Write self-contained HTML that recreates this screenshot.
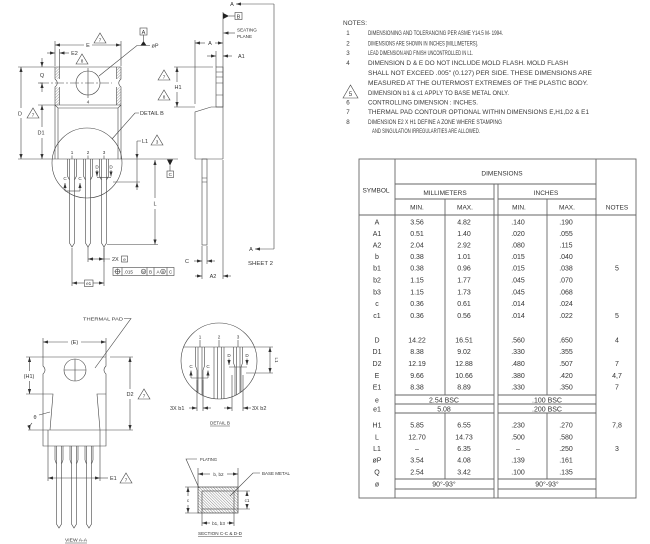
<!DOCTYPE html>
<html><head><meta charset="utf-8">
<style>
html,body{margin:0;padding:0;background:#fff}
svg{display:block}
.l{stroke:#444;stroke-width:.6;fill:none}
.d{marker-start:url(#a);marker-end:url(#a)}
.e{marker-end:url(#a)}
text{font-family:"Liberation Sans",sans-serif;fill:#333}
.t{font-size:5.5px}
.s{font-size:4.6px}
.n{font-size:6.2px;fill:#3a3a3a}
.tb{font-size:7px;fill:#444}
.g{stroke:#666;stroke-width:.9;fill:none}
.f{fill:none;stroke:#444;stroke-width:.6}
</style></head>
<body>
<svg width="650" height="544" viewBox="0 0 650 544" xmlns="http://www.w3.org/2000/svg">
<defs>
<marker id="a" markerUnits="userSpaceOnUse" markerWidth="5" markerHeight="3.2" refX="5" refY="1.6" orient="auto-start-reverse"><path d="M0,0L5,1.6L0,3.2z" fill="#333"/></marker>
<pattern id="h" width="2" height="2" patternUnits="userSpaceOnUse" patternTransform="rotate(45)"><line x1="0" y1="0" x2="0" y2="2" stroke="#555" stroke-width=".6"/></pattern>
<pattern id="h2" width="2" height="2" patternUnits="userSpaceOnUse" patternTransform="rotate(-45)"><line x1="0" y1="0" x2="0" y2="2" stroke="#555" stroke-width=".7"/></pattern>
<clipPath id="cb"><circle cx="219" cy="361" r="38"/></clipPath>
</defs>

<!-- ================= NOTES ================= -->
<text class="n" x="343" y="25.2" textLength="24" lengthAdjust="spacingAndGlyphs">NOTES:</text>
<text class="n" x="348" y="35.2" text-anchor="middle">1</text>
<text class="n" x="368" y="35.2" textLength="135" lengthAdjust="spacingAndGlyphs">DIMENSIONING AND TOLERANCING PER ASME Y14.5 M- 1994.</text>
<text class="n" x="348" y="45.5" text-anchor="middle">2</text>
<text class="n" x="368" y="45.5" textLength="110" lengthAdjust="spacingAndGlyphs">DIMENSIONS ARE SHOWN IN INCHES [MILLIMETERS].</text>
<text class="n" x="348" y="55.2" text-anchor="middle">3</text>
<text class="n" x="368" y="55.2" textLength="105" lengthAdjust="spacingAndGlyphs">LEAD DIMENSION AND FINISH UNCONTROLLED IN L1.</text>
<text class="n" x="348" y="65.2" text-anchor="middle">4</text>
<text class="n" x="368" y="65.2" textLength="200" lengthAdjust="spacingAndGlyphs">DIMENSION D &amp; E DO NOT INCLUDE MOLD FLASH. MOLD FLASH</text>
<text class="n" x="368" y="75.2" textLength="224" lengthAdjust="spacingAndGlyphs">SHALL NOT EXCEED .005" (0.127) PER SIDE. THESE DIMENSIONS ARE</text>
<text class="n" x="368" y="85.2" textLength="220" lengthAdjust="spacingAndGlyphs">MEASURED AT THE OUTERMOST EXTREMES OF THE PLASTIC BODY.</text>
<polygon points="343,98 350.5,85 358,98" class="f"/>
<text class="n" x="350.5" y="96" text-anchor="middle">5</text>
<text class="n" x="368" y="95.2" textLength="141" lengthAdjust="spacingAndGlyphs">DIMENSION b1 &amp; c1 APPLY TO BASE METAL ONLY.</text>
<text class="n" x="348" y="104.7" text-anchor="middle">6</text>
<text class="n" x="368" y="104.7" textLength="110" lengthAdjust="spacingAndGlyphs">CONTROLLING DIMENSION : INCHES.</text>
<text class="n" x="348" y="114.2" text-anchor="middle">7</text>
<text class="n" x="368" y="114.2" textLength="221" lengthAdjust="spacingAndGlyphs">THERMAL PAD CONTOUR OPTIONAL WITHIN DIMENSIONS E,H1,D2 &amp; E1</text>
<text class="n" x="348" y="124.2" text-anchor="middle">8</text>
<text class="n" x="368" y="124.2" textLength="134" lengthAdjust="spacingAndGlyphs">DIMENSION E2 X H1 DEFINE A ZONE WHERE STAMPING</text>
<text class="n" x="372" y="133.2" textLength="108" lengthAdjust="spacingAndGlyphs">AND SINGULATION IRREGULARITIES ARE ALLOWED.</text>

<!-- ================= TABLE ================= -->
<rect x="359" y="159" width="277" height="339" class="g"/>
<path class="g" d="M395,159V498M596,159V498M395,184H596M494,184V498M498,184V498M395,199H494M498,199H596M359,215H636
M445,199V395M445,413V479M547,199V395M547,413V479
M395,395H494M498,395H596M395,404H494M498,404H596M395,413H494M498,413H596
M395,479H494M498,479H596M395,489H494M498,489H596"/>
<g class="tb" text-anchor="middle" style="font-size:6.5px">
<text x="502" y="175.5">DIMENSIONS</text>
<text x="376" y="192.5">SYMBOL</text>
<text x="445" y="195">MILLIMETERS</text>
<text x="546" y="195">INCHES</text>
<text x="417" y="209.5">MIN.</text><text x="465" y="209.5">MAX.</text>
<text x="519" y="209.5">MIN.</text><text x="567" y="209.5">MAX.</text>
<text x="617" y="209.5">NOTES</text>
</g>
<g class="tb" text-anchor="middle">
<text x="377" y="224.5">A</text><text x="417" y="224.5">3.56</text><text x="464" y="224.5">4.82</text><text x="518" y="224.5">.140</text><text x="566" y="224.5">.190</text>
<text x="377" y="236">A1</text><text x="417" y="236">0.51</text><text x="464" y="236">1.40</text><text x="518" y="236">.020</text><text x="566" y="236">.055</text>
<text x="377" y="247.5">A2</text><text x="417" y="247.5">2.04</text><text x="464" y="247.5">2.92</text><text x="518" y="247.5">.080</text><text x="566" y="247.5">.115</text>
<text x="377" y="259">b</text><text x="417" y="259">0.38</text><text x="464" y="259">1.01</text><text x="518" y="259">.015</text><text x="566" y="259">.040</text>
<text x="377" y="270.5">b1</text><text x="417" y="270.5">0.38</text><text x="464" y="270.5">0.96</text><text x="518" y="270.5">.015</text><text x="566" y="270.5">.038</text><text x="617" y="270.5">5</text>
<text x="377" y="282.5">b2</text><text x="417" y="282.5">1.15</text><text x="464" y="282.5">1.77</text><text x="518" y="282.5">.045</text><text x="566" y="282.5">.070</text>
<text x="377" y="294.5">b3</text><text x="417" y="294.5">1.15</text><text x="464" y="294.5">1.73</text><text x="518" y="294.5">.045</text><text x="566" y="294.5">.068</text>
<text x="377" y="306">c</text><text x="417" y="306">0.36</text><text x="464" y="306">0.61</text><text x="518" y="306">.014</text><text x="566" y="306">.024</text>
<text x="377" y="318">c1</text><text x="417" y="318">0.36</text><text x="464" y="318">0.56</text><text x="518" y="318">.014</text><text x="566" y="318">.022</text><text x="617" y="318">5</text>
<text x="377" y="342.5">D</text><text x="417" y="342.5">14.22</text><text x="464" y="342.5">16.51</text><text x="518" y="342.5">.560</text><text x="566" y="342.5">.650</text><text x="617" y="342.5">4</text>
<text x="377" y="354">D1</text><text x="417" y="354">8.38</text><text x="464" y="354">9.02</text><text x="518" y="354">.330</text><text x="566" y="354">.355</text>
<text x="377" y="366">D2</text><text x="417" y="366">12.19</text><text x="464" y="366">12.88</text><text x="518" y="366">.480</text><text x="566" y="366">.507</text><text x="617" y="366">7</text>
<text x="377" y="378">E</text><text x="417" y="378">9.66</text><text x="464" y="378">10.66</text><text x="518" y="378">.380</text><text x="566" y="378">.420</text><text x="617" y="378">4,7</text>
<text x="377" y="389.5">E1</text><text x="417" y="389.5">8.38</text><text x="464" y="389.5">8.89</text><text x="518" y="389.5">.330</text><text x="566" y="389.5">.350</text><text x="617" y="389.5">7</text>
<text x="377" y="402.5">e</text><text x="444" y="402.3">2.54  BSC</text><text x="547" y="402.3">.100  BSC</text>
<text x="377" y="411.5">e1</text><text x="444" y="411.3">5.08</text><text x="547" y="411.3">.200  BSC</text>
<text x="377" y="427.5">H1</text><text x="417" y="427.5">5.85</text><text x="464" y="427.5">6.55</text><text x="518" y="427.5">.230</text><text x="566" y="427.5">.270</text><text x="617" y="427.5">7,8</text>
<text x="377" y="439.5">L</text><text x="417" y="439.5">12.70</text><text x="464" y="439.5">14.73</text><text x="518" y="439.5">.500</text><text x="566" y="439.5">.580</text>
<text x="377" y="451">L1</text><text x="417" y="451">–</text><text x="464" y="451">6.35</text><text x="518" y="451">–</text><text x="566" y="451">.250</text><text x="617" y="451">3</text>
<text x="377" y="462.5">øP</text><text x="417" y="462.5">3.54</text><text x="464" y="462.5">4.08</text><text x="518" y="462.5">.139</text><text x="566" y="462.5">.161</text>
<text x="377" y="474.5">Q</text><text x="417" y="474.5">2.54</text><text x="464" y="474.5">3.42</text><text x="518" y="474.5">.100</text><text x="566" y="474.5">.135</text>
<text x="377" y="486.5">ø</text><text x="444" y="486.5">90°-93°</text><text x="547" y="486.5">90°-93°</text>
</g>

<!-- ================= FRONT VIEW (top-left) ================= -->
<path class="l" d="M55,159V87Q59.5,83 55,79V67H121V79Q116.5,83 121,87V159"/>
<rect x="55.3" y="67.3" width="4" height="11.5" fill="url(#h)"/>
<rect x="55.3" y="87.3" width="4" height="17.5" fill="url(#h)"/>
<rect x="116.7" y="67.3" width="4" height="11.5" fill="url(#h)"/>
<rect x="116.7" y="87.3" width="4" height="17.5" fill="url(#h)"/>
<path class="l" d="M59.5,67V79M59.5,87V105M116.5,67V79M116.5,87V105M55,105H121M55,105L58,108H118L121,105M58,108V159M118,108V159"/>
<circle cx="88" cy="83" r="12" class="l"/>
<path class="l" d="M40,83H112" stroke-dasharray="9,2,2,2"/>
<path class="l" d="M88,68V98"/>
<text class="s" x="88" y="103.5" text-anchor="middle">4</text>
<!-- datum line at body bottom -->
<path class="l" d="M18,159H178"/>
<!-- Q -->
<path class="l" d="M18,67H55"/>
<path class="l e" d="M42,58V67"/><path class="l e" d="M42,92V83"/>
<path class="l" d="M38,83H43"/>
<text class="t" x="42" y="77" text-anchor="middle">Q</text>
<!-- D -->
<path class="l e" d="M21,108V67"/><path class="l e" d="M21,118V159"/>
<text class="t" x="20" y="115.5" text-anchor="middle">D</text>
<!-- D1 -->
<path class="l" d="M38,105H55"/>
<path class="l e" d="M42,127V105"/><path class="l e" d="M42,138V159"/>
<text class="t" x="41" y="134.5" text-anchor="middle">D1</text>
<!-- E -->
<path class="l" d="M55,41V66M121,41V66"/>
<path class="l e" d="M84,45H55"/><path class="l e" d="M92,45H121"/>
<text class="t" x="88" y="47" text-anchor="middle">E</text>
<!-- E2 -->
<path class="l" d="M59.5,49V67"/>
<path class="l e" d="M47,53H55"/><path class="l e" d="M69,53H59.5"/>
<text class="t" x="74.5" y="54.8" text-anchor="middle">E2</text>
<!-- datum A / øP -->
<rect x="140" y="28" width="7" height="7" class="f"/>
<text class="t" x="143.5" y="33.8" text-anchor="middle">A</text>
<path class="l" d="M143.5,35V41"/>
<polygon points="140.5,45.5 143.5,41 146.5,45.5" fill="#222"/>
<path class="l" d="M99,76L137,45.5H150"/>
<text class="t" x="151.5" y="47.5">øP</text>
<!-- DETAIL B leader -->
<path class="l" d="M112,139L135,113H139"/>
<text class="t" x="140" y="115">DETAIL  B</text>
<!-- detail circle -->
<circle cx="87" cy="163" r="35" class="l"/>
<!-- leads front -->
<g class="l">
<path d="M67.5,159V176L69.5,180V243L72,247L74.5,243V180L76.5,176V159M69.5,159V180M74.5,159V180"/>
<path d="M83.5,159V176L85.5,180V243L88,247L90.5,243V180L92.5,176V159M85.5,159V180M90.5,159V180"/>
<path d="M99.5,159V176L101.5,180V243L104,247L106.5,243V180L108.5,176V159M101.5,159V180M106.5,159V180"/>
<path d="M72,155.5V159M88,155.5V159M104,155.5V159"/>
</g>
<text class="s" x="72" y="154" text-anchor="middle">1</text>
<text class="s" x="88" y="154" text-anchor="middle">2</text>
<text class="s" x="104" y="154" text-anchor="middle">3</text>
<!-- C / D section markers -->
<text class="s" x="65" y="180" text-anchor="middle">C</text>
<text class="s" x="80" y="180" text-anchor="middle">C</text>
<path class="l e" d="M65,191V183"/><path class="l e" d="M80,191V183"/>
<path class="l" d="M65,191H80"/>
<text class="s" x="97" y="168.5" text-anchor="middle">D</text>
<text class="s" x="111" y="168.5" text-anchor="middle">D</text>
<path class="l e" d="M97,170V176.5"/><path class="l e" d="M111,170V176.5"/>
<path class="l" d="M97,177.5H111"/>
<!-- L -->
<path class="l" d="M107,244.5H158"/>
<path class="l e" d="M155,198V160"/><path class="l e" d="M155,209V244.5"/>
<text class="t" x="155" y="205.5" text-anchor="middle">L</text>
<!-- L1 -->
<path class="l" d="M113,182H140M137,141H141"/>
<path class="l e" d="M137,141V158.8"/><path class="l" d="M137,159V182"/>
<path class="l e" d="M137,190V182.3"/>
<text class="t" x="142" y="143">L1</text>
<!-- datum C -->
<polygon points="167,159.5 173,159.5 170,165.5" fill="#222"/>
<path class="l" d="M170,165.5V171"/>
<rect x="167" y="171" width="6.5" height="6.5" class="f"/>
<text class="s" x="170.3" y="176.2" text-anchor="middle">C</text>
<!-- 2X e -->
<path class="l" d="M88,247V262M104,247V262M104,259H110"/>
<path class="l e" d="M96,259H88"/><path class="l e" d="M96,259H104"/>
<text class="t" x="112" y="261">2X</text>
<rect x="121.5" y="256" width="6" height="6" class="f"/>
<text class="s" x="124.5" y="260.8" text-anchor="middle">e</text>
<!-- FCF -->
<rect x="113" y="267.5" width="61" height="8" class="f"/>
<path class="l" d="M122,267.5V275.5M147,267.5V275.5M154,267.5V275.5M167,267.5V275.5"/>
<circle cx="117.5" cy="271.5" r="2.4" class="l"/>
<path class="l" d="M114.5,271.5H120.5M117.5,268.5V274.5"/>
<text class="s" x="124" y="273.5">.015</text>
<circle cx="143.5" cy="271.5" r="2.3" class="l"/>
<text x="143.5" y="273" text-anchor="middle" style="font-size:3.3px">M</text>
<text class="s" x="150.5" y="273.5" text-anchor="middle">B</text>
<text class="s" x="158" y="273.5" text-anchor="middle">A</text>
<circle cx="163" cy="271.5" r="2.3" class="l"/>
<text x="163" y="273" text-anchor="middle" style="font-size:3.3px">M</text>
<text class="s" x="170.5" y="273.5" text-anchor="middle">C</text>
<!-- e1 -->
<path class="l" d="M72,248V286M104,248V286"/>
<path class="l e" d="M84,283H72"/><path class="l e" d="M93,283H104"/>
<rect x="84.5" y="280" width="8.5" height="6.5" class="f"/>
<text class="s" x="88.7" y="285" text-anchor="middle">e1</text>

<!-- ================= SIDE VIEW ================= -->
<path class="l" d="M223,12V159"/>
<polygon points="223,13 229,16 223,19" fill="#222"/>
<path class="l" d="M229,16H235"/>
<rect x="235" y="12.5" width="7" height="7" class="f"/>
<text class="t" x="238.5" y="18.3" text-anchor="middle">B</text>
<path class="l e" d="M235,33H223.5"/>
<text class="s" x="237" y="31.5">SEATING</text>
<text class="s" x="237" y="37.8">PLANE</text>
<!-- A -->
<path class="l" d="M195,40V104"/>
<path class="l e" d="M205,43H195"/><path class="l e" d="M215,43H223"/>
<text class="t" x="210" y="45" text-anchor="middle">A</text>
<!-- A1 -->
<path class="l" d="M216,51V67"/>
<path class="l e" d="M207,56H216"/><path class="l e" d="M232,56H223"/>
<text class="t" x="238" y="58">A1</text>
<!-- tab -->
<rect x="216" y="67" width="7" height="40" class="f"/>
<path class="l" d="M216,72H223M216,77H223M216,83H223M216,95H223"/>
<!-- H1 -->
<path class="l" d="M174,67H213M174,107H195"/>
<path class="l e" d="M177,82V67"/><path class="l e" d="M177,92V107"/>
<text class="t" x="178" y="89" text-anchor="middle">H1</text>
<!-- body -->
<path class="l" d="M195,159V112L211,107H223M195,159H223"/>
<!-- lead -->
<rect x="202" y="159" width="5" height="86" class="f"/>
<path class="l" d="M202,178H207M202,182H207"/>
<path class="l" d="M223,160V279"/>
<!-- C -->
<path class="l" d="M202,246V279M207,246V264"/>
<path class="l e" d="M194,261H202"/><path class="l e" d="M215,261H207"/>
<text class="t" x="187" y="263" text-anchor="middle">C</text>
<!-- A2 -->
<path class="l e" d="M195,276H202"/><path class="l e" d="M231,276H223"/>
<text class="t" x="213" y="278" text-anchor="middle">A2</text>
<!-- section A-A -->
<path class="l" d="M274,4V249"/>
<path class="l e" d="M274,4H236"/><path class="l e" d="M274,249H255"/>
<text class="t" x="232" y="6" text-anchor="middle">A</text>
<text class="t" x="251" y="251" text-anchor="middle">A</text>
<text class="t" x="248" y="265" textLength="25" lengthAdjust="spacingAndGlyphs">SHEET  2</text>

<!-- triangles top drawing -->
<g>
<polygon points="27,118 33,108 39,118" class="f"/><text class="s" x="33" y="116.5" text-anchor="middle">7</text>
<polygon points="94,43 100,33 106,43" class="f"/><text class="s" x="100" y="41.5" text-anchor="middle">7</text>
<polygon points="76,64 82,54 88,64" class="f"/><text class="s" x="82" y="62.5" text-anchor="middle">8</text>
<polygon points="151,145 157,135 163,145" class="f"/><text class="s" x="157" y="143.5" text-anchor="middle">3</text>
<polygon points="158,80 164,70 170,80" class="f"/><text class="s" x="164" y="78.5" text-anchor="middle">7</text>
<polygon points="158,100 164,90 170,100" class="f"/><text class="s" x="164" y="98.5" text-anchor="middle">8</text>
</g>

<!-- ================= VIEW A-A ================= -->
<text class="s" x="83" y="320.5" textLength="40" lengthAdjust="spacingAndGlyphs">THERMAL PAD</text>
<path class="l" d="M124,318.5H131L95,368"/>
<path class="l" d="M43,338V357M106,338V357"/>
<path class="l e" d="M68,342H43"/><path class="l e" d="M81,342H106"/>
<text class="t" x="74.5" y="344" text-anchor="middle">(E)</text>
<path class="l" d="M43,446V374Q47,370 43,366V357H106V366Q102,370 106,374V446Z"/>
<circle cx="75" cy="370" r="11" class="l"/>
<path class="l" d="M64,370H86M75,359V381"/>
<path class="l" d="M43,394H53L50,430M106,394H97L100,430M28,430H133"/>
<path class="l" d="M48,430V481M100,430V481"/>
<g class="l">
<path d="M55,446V460L56.5,464V524L59,528L61.5,524V464L63,460V446M56.5,446V464M61.5,446V464"/>
<path d="M70,446V460L71.5,464V524L74,528L76.5,524V464L78,460V446M71.5,446V464M76.5,446V464"/>
<path d="M85,446V460L86.5,464V524L89,528L91.5,524V464L93,460V446M86.5,446V464M91.5,446V464"/>
</g>
<path class="l d" d="M48,478H100"/>
<path class="l" d="M100,478H108"/>
<text class="t" x="110" y="480">E1</text>
<polygon points="120,483 126,473 132,483" class="f"/><text class="s" x="126" y="481.5" text-anchor="middle">7</text>
<!-- (H1) -->
<path class="l" d="M26,357H43M26,394H43"/>
<path class="l e" d="M29.5,371V357"/><path class="l e" d="M29.5,381V394"/>
<text class="t" x="29" y="378" text-anchor="middle">(H1)</text>
<!-- D2 -->
<path class="l" d="M110,357H133"/>
<path class="l e" d="M130,389V357"/><path class="l e" d="M130,399V430"/>
<text class="t" x="130" y="396" text-anchor="middle">D2</text>
<polygon points="138,399 144,389 150,399" class="f"/><text class="s" x="144" y="397.5" text-anchor="middle">7</text>
<!-- theta -->
<text class="t" x="35" y="419" text-anchor="middle">θ</text>
<path class="l" d="M39,415L50,412"/>
<path class="l e" d="M32,423Q29,426 30,430"/>
<text class="s" x="76" y="541.5" text-anchor="middle" textLength="22" lengthAdjust="spacingAndGlyphs">VIEW A-A</text>
<path class="l" d="M65,543H87"/>

<!-- ================= DETAIL B ================= -->
<circle cx="219" cy="361" r="38" class="l"/>
<path class="l" d="M183.5,347H254.5M254.5,347H273"/>
<g class="l" clip-path="url(#cb)">
<path d="M195.5,347V366L197,370V410M204.5,347V366L203,370V410M198,347V410M202,347V410"/>
<path d="M214,347V410M217.5,347V410M221.5,347V410M224,347V410"/>
<path d="M233.5,347V363L235,367V410M242.5,347V363L241,367V410M236.5,347V410M240,347V410"/>
</g>
<path class="l" d="M200,340V347M219,340V347M238,340V347"/>
<text class="s" x="200" y="338.5" text-anchor="middle">1</text>
<text class="s" x="219" y="338.5" text-anchor="middle">2</text>
<text class="s" x="238" y="338.5" text-anchor="middle">3</text>
<text class="s" x="191" y="368" text-anchor="middle">C</text>
<text class="s" x="208" y="368" text-anchor="middle">C</text>
<path class="l e" d="M191,378V370.5"/><path class="l e" d="M208,378V370.5"/>
<path class="l" d="M191,378H208"/>
<text class="s" x="229" y="357" text-anchor="middle">D</text>
<text class="s" x="247" y="357" text-anchor="middle">D</text>
<path class="l e" d="M229,358.5V365"/><path class="l e" d="M247,358.5V365"/>
<path class="l" d="M229,367H247"/>
<path class="l" d="M246,373H273"/>
<path class="l d" d="M270,347V373"/>
<text class="s" x="275" y="360" text-anchor="middle" transform="rotate(90 275 360)">L1</text>
<!-- 3X b1 / b2 -->
<path class="l" d="M197,380V411M203,380V411M232,375V411M243,375V411"/>
<path class="l e" d="M189,408H197"/><path class="l e" d="M211,408H203"/>
<path class="l e" d="M224,408H232"/><path class="l e" d="M251,408H243"/>
<text class="t" x="170" y="410">3X  b1</text>
<text class="t" x="252" y="410">3X  b2</text>
<text class="s" x="220" y="424.5" text-anchor="middle" textLength="20" lengthAdjust="spacingAndGlyphs">DETAIL B</text>
<path class="l" d="M210,426H230"/>

<!-- ================= SECTION C-C & D-D ================= -->
<text class="s" x="200" y="461" textLength="17" lengthAdjust="spacingAndGlyphs">PLATING</text>
<path class="l" d="M197,459H186L199,488"/>
<rect x="198" y="487" width="40" height="26" fill="url(#h2)" stroke="#444" stroke-width=".7"/>
<rect x="202" y="491" width="32" height="18" class="f"/>
<path class="l" d="M198,468V487M238,468V487"/>
<path class="l e" d="M210,474H198"/><path class="l e" d="M227,474H238"/>
<text class="s" x="218.5" y="476" text-anchor="middle">b,  b2</text>
<text class="s" x="262" y="475" textLength="28" lengthAdjust="spacingAndGlyphs">BASE METAL</text>
<path class="l" d="M260,473H253L230,496"/>
<path class="l" d="M185,487H198M185,513H198"/>
<path class="l e" d="M188,496V487"/><path class="l e" d="M188,505V513"/>
<text class="s" x="188" y="502" text-anchor="middle">c</text>
<path class="l" d="M234,491H250M234,509H250"/>
<path class="l e" d="M247,496V491"/><path class="l e" d="M247,505V509"/>
<text class="s" x="247" y="502" text-anchor="middle">c1</text>
<path class="l" d="M202,509V526M234,509V526"/>
<path class="l e" d="M210,523H202"/><path class="l e" d="M227,523H234"/>
<text class="s" x="218.5" y="525" text-anchor="middle">b1,  b3</text>
<text class="s" x="220" y="535" text-anchor="middle" textLength="44" lengthAdjust="spacingAndGlyphs">SECTION C-C &amp; D-D</text>
<path class="l" d="M198,536.5H242"/>
</svg>
</body></html>
